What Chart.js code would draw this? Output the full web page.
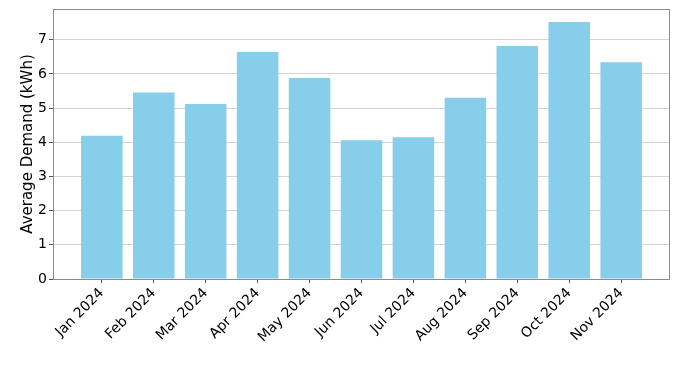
<!DOCTYPE html>
<html>
<head>
<meta charset="utf-8">
<script src="https://cdn.jsdelivr.net/npm/chart.js@4/dist/chart.umd.min.js"></script>
<style>
html,body{margin:0;padding:0;background:#fff;}
#wrap{width:693px;height:372px;}
</style>
</head>
<body>
<div id="wrap"><canvas id="c" width="693" height="372"></canvas></div>
<script>
const categories = ["Jan 2024","Feb 2024","Mar 2024","Apr 2024","May 2024","Jun 2024","Jul 2024","Aug 2024","Sep 2024","Oct 2024","Nov 2024"];
const demand = [4.19, 5.46, 5.12, 6.64, 5.88, 4.06, 4.15, 5.30, 6.82, 7.52, 6.34];
const yTicks = [0,1,2,3,4,5,6,7];
const yTitle = "Average Demand (kWh)";

const frame = {
  id: 'frame',
  afterDraw(chart) {
    const a = chart.chartArea, ctx = chart.ctx;
    ctx.save();
    ctx.strokeStyle = '#8c8c8c';
    ctx.lineWidth = 1;
    ctx.strokeRect(Math.round(a.left)+0.5, Math.round(a.top)+0.5, Math.round(a.right-a.left)-1, Math.round(a.bottom-a.top));
    ctx.restore();
  }
};

new Chart(document.getElementById('c'), {
  type: 'bar',
  data: {
    datasets: [{
      data: demand.map((v, i) => ({x: i, y: v})),
      backgroundColor: '#87CEEB',
      borderWidth: 0,
      barPercentage: 0.8,
      categoryPercentage: 1.0
    }]
  },
  options: {
    responsive: false,
    animation: false,
    devicePixelRatio: 1,
    layout: { padding: { top: 9, right: 23, left: 0, bottom: 0 } },
    plugins: { legend: { display: false }, tooltip: { enabled: false } },
    scales: {
      x: {
        type: 'linear',
        min: -0.94,
        max: 10.94,
        offset: false,
        grid: { display: true, offset: false, drawOnChartArea: false, drawTicks: true, tickLength: 4, tickColor: '#555' },
        border: { display: false },
        afterBuildTicks(scale) { scale.ticks = categories.map((_, i) => ({ value: i })); },
        afterFit(scale) { scale.height = 93; scale.paddingLeft = 0; scale.paddingRight = 0; },
        ticks: {
          autoSkip: false,
          maxRotation: 45,
          minRotation: 45,
          padding: 2,
          color: '#000',
          font: { family: 'DejaVu Sans', size: 14 },
          callback: (v) => categories[Math.round(v)] ?? ''
        }
      },
      y: {
        min: 0,
        max: 7.9,
        grid: { color: 'rgba(0,0,0,0.17)', tickColor: '#555', tickLength: 4, lineWidth: 1 },
        border: { display: false },
        afterBuildTicks(scale) { scale.ticks = yTicks.map(v => ({ value: v })); },
        afterFit(scale) { scale.width = 53; scale.paddingTop = 0; scale.paddingBottom = 0; },
        ticks: {
          padding: 2,
          color: '#000',
          font: { family: 'DejaVu Sans', size: 14 },
          callback: (v) => String(v)
        },
        title: {
          display: true,
          text: yTitle,
          color: '#000',
          font: { family: 'DejaVu Sans', size: 15 },
          padding: { top: 19, bottom: 0 }
        }
      }
    }
  },
  plugins: [frame]
});
</script>
</body>
</html>
